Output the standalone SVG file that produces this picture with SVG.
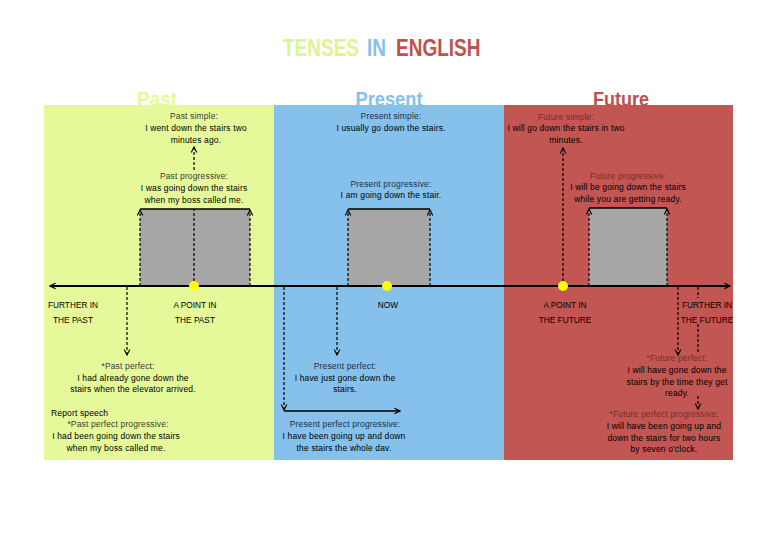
<svg xmlns="http://www.w3.org/2000/svg" width="768" height="543" viewBox="0 0 768 543">
<defs>
<marker id="ah" viewBox="0 0 10 10" refX="9" refY="5" markerWidth="7" markerHeight="7" orient="auto-start-reverse" markerUnits="userSpaceOnUse">
<path d="M1,1 L9,5 L1,9" fill="none" stroke="#000" stroke-width="1.6"/>
</marker>
<style>
.t{font-family:"Liberation Sans",Arial,sans-serif;font-size:8.5px;letter-spacing:0.15px;fill:#000;text-anchor:middle}
.lab{fill:#3a3a3a}
.fl{fill:#7a2b29}
.pl{fill:#1e2f45}
.cap{font-family:"Liberation Sans",Arial,sans-serif;font-size:8.3px;fill:#000;text-anchor:middle}
.hd{font-family:"Liberation Sans",Arial,sans-serif;font-weight:bold;font-size:21px;text-anchor:middle}
.ti{font-family:"Liberation Sans",Arial,sans-serif;font-weight:bold;font-size:19px}
.dash{stroke:#000;stroke-width:1.2;stroke-dasharray:3,2;fill:none}
.solid{stroke:#000;stroke-width:1.5;fill:none}
.box{fill:#a6a6a6}
.dot{fill:#ffff00}
</style>
</defs>
<rect width="768" height="543" fill="#fff"/>
<g id="title" transform="translate(0,56) scale(1,1.22)">
<text class="ti" x="283" y="0" fill="#dcf592">TENSES</text>
<text class="ti" x="367" y="0" fill="#85c1ea">IN</text>
<text class="ti" x="396" y="0" fill="#c0504d">ENGLISH</text>
</g>
<g id="panel-past"><rect x="44" y="105" width="230" height="355" fill="#e5f99b"/></g>
<g id="panel-present"><rect x="274" y="105" width="230" height="355" fill="#85c1ea"/></g>
<g id="panel-future"><rect x="504" y="105" width="229" height="355" fill="#c25653"/></g>
<g id="headers">
<text class="hd" x="157" y="106" fill="#e5f99b" textLength="40" lengthAdjust="spacingAndGlyphs">Past</text>
<text class="hd" x="389" y="106" fill="#85c1ea" textLength="67" lengthAdjust="spacingAndGlyphs">Present</text>
<text class="hd" x="621" y="106" fill="#c0504d" textLength="56" lengthAdjust="spacingAndGlyphs">Future</text>
</g>
<g id="boxes">
<rect class="box" x="140" y="209" width="110" height="77"/>
<rect class="box" x="348" y="209" width="82" height="77"/>
<rect class="box" x="589" y="208" width="78" height="78"/>
</g>
<g id="connectors">
<line class="solid" x1="140" y1="209" x2="250" y2="209"/>
<line class="dash" x1="140" y1="286" x2="140" y2="210" marker-end="url(#ah)"/>
<line class="dash" x1="250" y1="286" x2="250" y2="210" marker-end="url(#ah)"/>
<line class="dash" x1="194" y1="286" x2="194" y2="209"/>
<line class="dash" x1="194" y1="170" x2="194" y2="147" marker-end="url(#ah)"/>
<line class="solid" x1="348" y1="209" x2="430" y2="209"/>
<line class="dash" x1="348" y1="286" x2="348" y2="210" marker-end="url(#ah)"/>
<line class="dash" x1="430" y1="286" x2="430" y2="210" marker-end="url(#ah)"/>
<line class="solid" x1="589" y1="208" x2="667" y2="208"/>
<line class="dash" x1="589" y1="286" x2="589" y2="209" marker-end="url(#ah)"/>
<line class="dash" x1="667" y1="286" x2="667" y2="209" marker-end="url(#ah)"/>
<line class="dash" x1="563" y1="286" x2="563" y2="148" marker-end="url(#ah)"/>
<line class="dash" x1="127" y1="287" x2="127" y2="355" marker-end="url(#ah)"/>
<line class="dash" x1="284" y1="287" x2="284" y2="410" marker-end="url(#ah)"/>
<line class="solid" x1="284" y1="411" x2="400" y2="411" marker-end="url(#ah)"/>
<line class="dash" x1="337" y1="287" x2="337" y2="355" marker-end="url(#ah)"/>
<line class="dash" x1="678" y1="287" x2="678" y2="355" marker-end="url(#ah)"/>
<line class="dash" x1="698" y1="287" x2="698" y2="298"/>
<line class="dash" x1="698" y1="324" x2="698" y2="352"/>
<line class="dash" x1="698" y1="396" x2="698" y2="409" marker-end="url(#ah)"/>
<line x1="50" y1="286" x2="730" y2="286" stroke="#000" stroke-width="2" marker-start="url(#ah)" marker-end="url(#ah)"/>
</g>
<g id="points">
<circle class="dot" cx="194" cy="286" r="5"/>
<circle class="dot" cx="387" cy="286" r="5"/>
<circle class="dot" cx="563" cy="286" r="5"/>
</g>
<g id="past-simple">
<text class="t lab" x="194" y="119">Past simple:</text>
<text class="t" x="196" y="131">I went down the stairs two</text>
<text class="t" x="196" y="143">minutes ago.</text>
</g>
<g id="past-progressive">
<text class="t lab" x="194" y="179">Past progressive:</text>
<text class="t" x="194" y="191">I was going down the stairs</text>
<text class="t" x="194" y="203">when my boss called me.</text>
</g>
<g id="present-simple">
<text class="t pl" x="391" y="119">Present simple:</text>
<text class="t" x="391" y="131">I usually go down the stairs.</text>
</g>
<g id="present-progressive">
<text class="t pl" x="391" y="187">Present progressive:</text>
<text class="t" x="391" y="198">I am going down the stair.</text>
</g>
<g id="future-simple">
<text class="t fl" x="566" y="120">Future simple:</text>
<text class="t" x="566" y="131">I will go down the stairs in two</text>
<text class="t" x="566" y="143">minutes.</text>
</g>
<g id="future-progressive">
<text class="t fl" x="628" y="179">Future progressive:</text>
<text class="t" x="628" y="190">I will be going down the stairs</text>
<text class="t" x="628" y="202">while you are getting ready.</text>
</g>
<g id="timeline-labels">
<text class="cap" x="73" y="308">FURTHER IN</text>
<text class="cap" x="73" y="323">THE PAST</text>
<text class="cap" x="195" y="308">A POINT IN</text>
<text class="cap" x="195" y="323">THE PAST</text>
<text class="cap" x="388" y="308">NOW</text>
<text class="cap" x="565" y="308">A POINT IN</text>
<text class="cap" x="565" y="323">THE FUTURE</text>
<text class="cap" x="707" y="308">FURTHER IN</text>
<text class="cap" x="707" y="323">THE FUTURE</text>
</g>
<g id="past-perfect">
<text class="t lab" x="128" y="369">*Past perfect:</text>
<text class="t" x="133" y="381">I had already gone down the</text>
<text class="t" x="133" y="392">stairs when the elevator arrived.</text>
</g>
<g id="past-perfect-progressive">
<text class="t" x="51" y="416" style="text-anchor:start">Report speech</text>
<text class="t lab" x="118" y="427">*Past perfect progressive:</text>
<text class="t" x="116" y="439">I had been going down the stairs</text>
<text class="t" x="116" y="451">when my boss called me.</text>
</g>
<g id="present-perfect">
<text class="t pl" x="345" y="369">Present perfect:</text>
<text class="t" x="345" y="381">I have just gone down the</text>
<text class="t" x="345" y="392">stairs.</text>
</g>
<g id="present-perfect-progressive">
<text class="t pl" x="345" y="427">Present perfect progressive:</text>
<text class="t" x="344" y="439">I have been going up and down</text>
<text class="t" x="344" y="451">the stairs the whole dav.</text>
</g>
<g id="future-perfect">
<text class="t fl" x="677" y="361">*Future perfect:</text>
<text class="t" x="677" y="373">I will have gone down the</text>
<text class="t" x="677" y="385">stairs by the time they get</text>
<text class="t" x="677" y="396">ready.</text>
</g>
<g id="future-perfect-progressive">
<text class="t fl" x="664" y="417">*Future perfect progressive:</text>
<text class="t" x="664" y="429">I will have been going up and</text>
<text class="t" x="664" y="441">down the stairs for two hours</text>
<text class="t" x="664" y="452">by seven o'clock.</text>
</g>
</svg>
